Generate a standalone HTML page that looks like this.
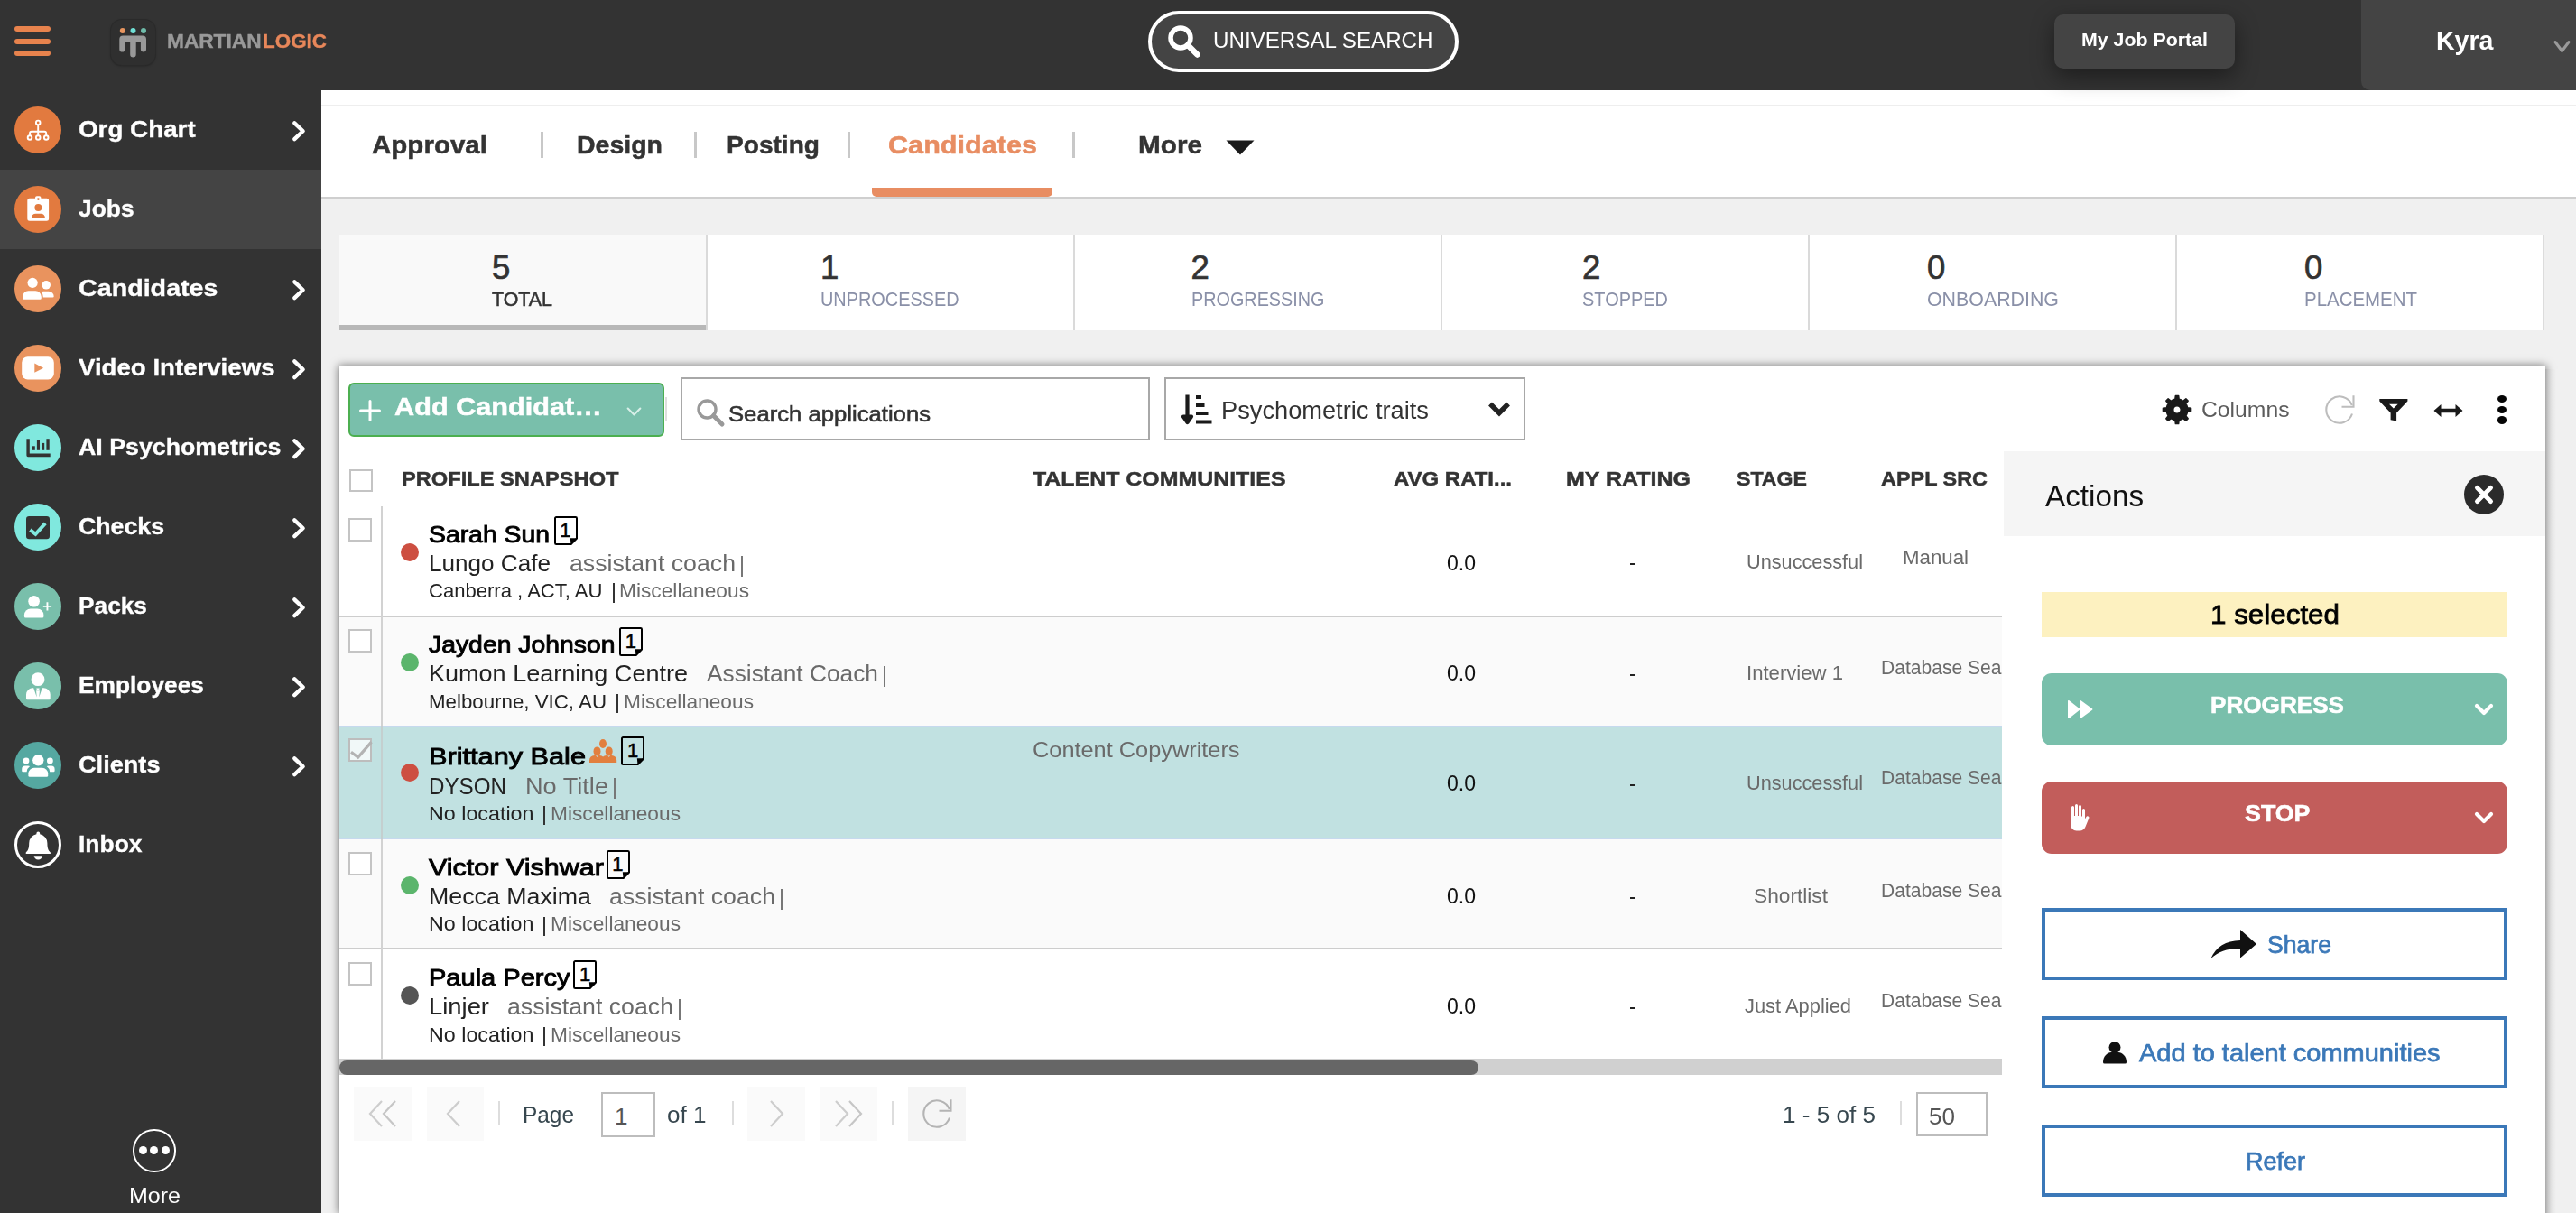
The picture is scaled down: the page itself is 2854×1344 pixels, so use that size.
<!DOCTYPE html>
<html><head><meta charset="utf-8"><title>Candidates</title>
<style>
html,body{margin:0;padding:0;}
body{width:2854px;height:1344px;overflow:hidden;position:relative;background:#f0f0f0;font-family:"Liberation Sans",sans-serif;}
svg{display:block;overflow:visible}
</style></head><body>
<div style="position:absolute;left:0px;top:0px;width:2854px;height:100px;background:#333333;"></div>
<div style="position:absolute;left:0px;top:100px;width:356px;height:1244px;background:#333333;"></div>
<div style="position:absolute;left:356px;top:100px;width:2498px;height:118px;background:#fff;border-bottom:2px solid #cfcfcf;"></div>
<div style="position:absolute;left:356px;top:116px;width:2498px;height:2px;background:#eeeeee;"></div>
<div style="position:absolute;left:16px;top:29px;width:40px;height:6px;background:#e8834d;border-radius:3px;"></div>
<div style="position:absolute;left:16px;top:43px;width:40px;height:6px;background:#e8834d;border-radius:3px;"></div>
<div style="position:absolute;left:16px;top:56px;width:40px;height:6px;background:#e8834d;border-radius:3px;"></div>
<div style="position:absolute;left:122.5px;top:21.8px;width:49.2px;height:50px;background:#2f2f2f;border-radius:12px;box-shadow:0 0 0 1px #2a2a2a, 0 1px 3px rgba(0,0,0,.35);box-sizing:border-box;"></div>
<svg style="position:absolute;left:122.5px;top:22px;" width="49" height="50" viewBox="0 0 49 50">
<circle cx="12.800" cy="11.900" r="3" fill="#e8955f"/><circle cx="24.500" cy="11.900" r="3" fill="#6fe0d6"/><circle cx="36" cy="11.900" r="3" fill="#6fbcaa"/>
<path d="M9.300 32.500 V21.600 a4 4 0 0 1 4 -4 H35 a4 4 0 0 1 4 4 V32.500 a3.050 3.050 0 0 1 -6.100 0 V24.400 H27.700 V38.300 a3.250 3.250 0 0 1 -6.500 0 V24.400 H15.500 V32.500 a3.100 3.100 0 0 1 -6.200 0 z" fill="#999"/>
</svg>
<span style="position:absolute;left:184.8px;top:34.5px;font-size:22.5px;line-height:1;font-weight:700;color:#999;white-space:nowrap;transform:scaleX(1.0074);transform-origin:0 0;-webkit-text-stroke:0.400px #999;">MARTIAN</span>
<span style="position:absolute;left:291.0px;top:34.5px;font-size:22.5px;line-height:1;font-weight:700;color:#e8875a;white-space:nowrap;transform:scaleX(0.9965);transform-origin:0 0;-webkit-text-stroke:0.400px #e8875a;">LOGIC</span>
<div style="position:absolute;left:1272px;top:12px;width:343.5px;height:68px;background:#444;border:4px solid #fff;border-radius:34px;box-sizing:border-box;"></div>
<svg style="position:absolute;left:1293px;top:27px;" width="38" height="38" viewBox="0 0 38 38"><circle cx="15" cy="15" r="11" fill="none" stroke="#fff" stroke-width="5.5"/><path d="M23 23 L33.5 33.5" stroke="#fff" stroke-width="6.5" stroke-linecap="round"/></svg>
<span style="position:absolute;left:1344.0px;top:34.1px;font-size:23.5px;line-height:1;font-weight:400;color:#fff;white-space:nowrap;transform:scaleX(1.0282);transform-origin:0 0;">UNIVERSAL SEARCH</span>
<div style="position:absolute;left:2276px;top:16px;width:200px;height:60px;background:#444;border-radius:10px;box-shadow:0 8px 26px rgba(0,0,0,.45);"></div>
<span style="position:absolute;left:2306.0px;top:34.1px;font-size:20px;line-height:1;font-weight:700;color:#fff;white-space:nowrap;transform:scaleX(1.0676);transform-origin:0 0;">My Job Portal</span>
<div style="position:absolute;left:2616px;top:0px;width:238px;height:100px;background:#444;border-bottom-left-radius:10px;"></div>
<span style="position:absolute;left:2698.5px;top:29.6px;font-size:30px;line-height:1;font-weight:700;color:#fff;white-space:nowrap;transform:scaleX(0.9518);transform-origin:0 0;">Kyra</span>
<svg style="position:absolute;left:2828.5px;top:43.5px;" width="19" height="16" viewBox="0 0 19 16"><path d="M2 2.500 L9.500 12.500 L17 2.500" fill="none" stroke="#9a9a9a" stroke-width="3" stroke-linecap="round" stroke-linejoin="round"/></svg>
<div style="position:absolute;left:0px;top:188px;width:356px;height:88px;background:#444;"></div>
<div style="position:absolute;left:15.5px;top:117.5px;width:52px;height:52px;background:#e27a3f;border-radius:50%;"></div>
<svg style="position:absolute;left:15.5px;top:117.5px;" width="52" height="52" viewBox="0 0 52 52"><g fill="none" stroke="#fff" stroke-width="1.9"><circle cx="26.2" cy="17.9" r="2.3"/><path d="M26.2 20.3 V32 M17 32 V29.8 a2 2 0 0 1 2 -2 H33.2 a2 2 0 0 1 2 2 V32"/><circle cx="17" cy="34.5" r="2.3"/><circle cx="26.2" cy="34.5" r="2.3"/><circle cx="35.2" cy="34.5" r="2.3"/></g></svg>
<span style="position:absolute;left:87.0px;top:129.5px;font-size:26.5px;line-height:1;font-weight:700;color:#fff;white-space:nowrap;transform:scaleX(1.0486);transform-origin:0 0;-webkit-text-stroke:0.350px #fff;">Org Chart</span>
<svg style="position:absolute;left:322.6px;top:133.5px;" width="16.9" height="22.5" viewBox="0 0 18 24"><path d="M3.500 2.500 L13.500 12 L3.500 21.500" fill="none" stroke="#fff" stroke-width="4.600" stroke-linecap="round" stroke-linejoin="round"/></svg>
<div style="position:absolute;left:15.5px;top:205.5px;width:52px;height:52px;background:#e27a3f;border-radius:50%;"></div>
<svg style="position:absolute;left:15.5px;top:205.5px;" width="52" height="52" viewBox="0 0 52 52"><path d="M16.8 13.8 h6.2 v-0.8 a1.8 1.800 0 0 1 1.800 -1.800 h2.800 a1.800 1.800 0 0 1 1.800 1.800 v0.800 h6.200 a2.500 2.500 0 0 1 2.500 2.500 V36.300 a2.500 2.500 0 0 1 -2.500 2.500 H16.800 a2.500 2.500 0 0 1 -2.500 -2.500 V16.300 a2.500 2.500 0 0 1 2.500 -2.500 z" fill="#fff"/><circle cx="26.400" cy="24" r="4" fill="#e27a3f"/><path d="M18.900 35.300 a4.600 4.600 0 0 1 4.600 -4.600 h5.800 a4.600 4.600 0 0 1 4.600 4.600 v0.400 h-15 z" fill="#e27a3f"/><circle cx="26.400" cy="14.600" r="1.300" fill="#e27a3f"/></svg>
<span style="position:absolute;left:87.0px;top:217.5px;font-size:26.5px;line-height:1;font-weight:700;color:#fff;white-space:nowrap;transform:scaleX(0.9974);transform-origin:0 0;-webkit-text-stroke:0.350px #fff;">Jobs</span>
<div style="position:absolute;left:15.5px;top:293.5px;width:52px;height:52px;background:#e9935e;border-radius:50%;"></div>
<svg style="position:absolute;left:15.5px;top:293.5px;" width="52" height="52" viewBox="0 0 52 52"><g fill="#fff"><circle cx="20.100" cy="19.400" r="5.600"/><circle cx="35.200" cy="21.800" r="4.800"/><path d="M9 36.200 v-1.400 a6.500 6.500 0 0 1 6.500 -6.500 h7.800 a6.500 6.500 0 0 1 6.500 6.500 v1.400 a1.500 1.500 0 0 1 -1.500 1.500 H10.500 a1.500 1.500 0 0 1 -1.500 -1.500 z"/><path d="M31.700 35.500 v-0.700 a8.300 8.300 0 0 0 -2.200 -5.500 a5.800 5.800 0 0 1 2.600 -0.600 h5.800 a5.800 5.800 0 0 1 5.800 5.800 v-0.200 a1.200 1.200 0 0 1 -1.200 1.200 z"/></g></svg>
<span style="position:absolute;left:87.0px;top:305.5px;font-size:26.5px;line-height:1;font-weight:700;color:#fff;white-space:nowrap;transform:scaleX(1.0816);transform-origin:0 0;-webkit-text-stroke:0.350px #fff;">Candidates</span>
<svg style="position:absolute;left:322.6px;top:309.5px;" width="16.9" height="22.5" viewBox="0 0 18 24"><path d="M3.500 2.500 L13.500 12 L3.500 21.500" fill="none" stroke="#fff" stroke-width="4.600" stroke-linecap="round" stroke-linejoin="round"/></svg>
<div style="position:absolute;left:15.5px;top:381.5px;width:52px;height:52px;background:#e9935e;border-radius:50%;"></div>
<svg style="position:absolute;left:15.5px;top:381.5px;" width="52" height="52" viewBox="0 0 52 52"><rect x="8.200" y="13.200" width="35.600" height="25.200" rx="6.500" fill="#fff"/><path d="M22.300 20.600 L32.200 25.700 L22.300 30.800 z" fill="#e9935e"/></svg>
<span style="position:absolute;left:87.0px;top:393.5px;font-size:26.5px;line-height:1;font-weight:700;color:#fff;white-space:nowrap;transform:scaleX(1.0424);transform-origin:0 0;-webkit-text-stroke:0.350px #fff;">Video Interviews</span>
<svg style="position:absolute;left:322.6px;top:397.5px;" width="16.9" height="22.5" viewBox="0 0 18 24"><path d="M3.500 2.500 L13.500 12 L3.500 21.500" fill="none" stroke="#fff" stroke-width="4.600" stroke-linecap="round" stroke-linejoin="round"/></svg>
<div style="position:absolute;left:15.5px;top:469.5px;width:52px;height:52px;background:#80e8de;border-radius:50%;"></div>
<svg style="position:absolute;left:15.5px;top:469.5px;" width="52" height="52" viewBox="0 0 52 52"><g fill="#333"><path d="M13.400 16.200 h3.400 v16.400 H39.700 v3.600 H15 a1.600 1.600 0 0 1 -1.600 -1.600 z"/><rect x="19.500" y="24.300" width="3.300" height="4.500"/><rect x="24.900" y="17.700" width="3.100" height="11.100"/><rect x="30.200" y="20.900" width="3" height="7.900"/><rect x="35.400" y="16.200" width="3.300" height="12.600"/></g></svg>
<span style="position:absolute;left:87.0px;top:481.5px;font-size:26.5px;line-height:1;font-weight:700;color:#fff;white-space:nowrap;transform:scaleX(1.0094);transform-origin:0 0;-webkit-text-stroke:0.350px #fff;">AI Psychometrics</span>
<svg style="position:absolute;left:322.6px;top:485.5px;" width="16.9" height="22.5" viewBox="0 0 18 24"><path d="M3.500 2.500 L13.500 12 L3.500 21.500" fill="none" stroke="#fff" stroke-width="4.600" stroke-linecap="round" stroke-linejoin="round"/></svg>
<div style="position:absolute;left:15.5px;top:557.5px;width:52px;height:52px;background:#80e8de;border-radius:50%;"></div>
<svg style="position:absolute;left:15.5px;top:557.5px;" width="52" height="52" viewBox="0 0 52 52"><rect x="13" y="13.900" width="26" height="25.300" rx="3.200" fill="#333"/><path d="M17.400 29.100 L23.400 33.800 L34.200 21.900" fill="none" stroke="#80e8de" stroke-width="4"/></svg>
<span style="position:absolute;left:87.0px;top:569.5px;font-size:26.5px;line-height:1;font-weight:700;color:#fff;white-space:nowrap;transform:scaleX(1.0076);transform-origin:0 0;-webkit-text-stroke:0.350px #fff;">Checks</span>
<svg style="position:absolute;left:322.6px;top:573.5px;" width="16.9" height="22.5" viewBox="0 0 18 24"><path d="M3.500 2.500 L13.500 12 L3.500 21.500" fill="none" stroke="#fff" stroke-width="4.600" stroke-linecap="round" stroke-linejoin="round"/></svg>
<div style="position:absolute;left:15.5px;top:645.5px;width:52px;height:52px;background:#79bfab;border-radius:50%;"></div>
<svg style="position:absolute;left:15.5px;top:645.5px;" width="52" height="52" viewBox="0 0 52 52"><g fill="#fff"><circle cx="21.600" cy="20.300" r="6.300"/><path d="M10.900 36.900 v-1.400 a7 7 0 0 1 7 -7 h7.500 a7 7 0 0 1 7 7 v1.400 a1.500 1.500 0 0 1 -1.500 1.500 H12.400 a1.500 1.500 0 0 1 -1.500 -1.500 z"/><path d="M35.500 21.200 h1.900 v3.700 h3.700 v1.900 h-3.700 v3.700 h-1.900 v-3.700 h-3.700 v-1.900 h3.700 z"/></g></svg>
<span style="position:absolute;left:87.0px;top:657.5px;font-size:26.5px;line-height:1;font-weight:700;color:#fff;white-space:nowrap;transform:scaleX(0.9916);transform-origin:0 0;-webkit-text-stroke:0.350px #fff;">Packs</span>
<svg style="position:absolute;left:322.6px;top:661.5px;" width="16.9" height="22.5" viewBox="0 0 18 24"><path d="M3.500 2.500 L13.500 12 L3.500 21.500" fill="none" stroke="#fff" stroke-width="4.600" stroke-linecap="round" stroke-linejoin="round"/></svg>
<div style="position:absolute;left:15.5px;top:733.5px;width:52px;height:52px;background:#79bfab;border-radius:50%;"></div>
<svg style="position:absolute;left:15.5px;top:733.5px;" width="52" height="52" viewBox="0 0 52 52"><g fill="#fff"><circle cx="26" cy="18.700" r="7.400"/><path d="M13 40 v-4.500 a7.200 7.200 0 0 1 7.200 -7.200 h1 l3.500 10.300 l-0.600 -7.300 h3.800 l-0.600 7.300 l3.500 -10.300 h1.700 a7.200 7.200 0 0 1 7.200 7.200 v4.500 a1.200 1.200 0 0 1 -1.200 1.200 H14.200 a1.200 1.200 0 0 1 -1.200 -1.200 z"/><path d="M24.300 28.400 h3.400 l-0.700 2.300 h-2 z"/></g></svg>
<span style="position:absolute;left:87.0px;top:745.5px;font-size:26.5px;line-height:1;font-weight:700;color:#fff;white-space:nowrap;transform:scaleX(0.9933);transform-origin:0 0;-webkit-text-stroke:0.350px #fff;">Employees</span>
<svg style="position:absolute;left:322.6px;top:749.5px;" width="16.9" height="22.5" viewBox="0 0 18 24"><path d="M3.500 2.500 L13.500 12 L3.500 21.500" fill="none" stroke="#fff" stroke-width="4.600" stroke-linecap="round" stroke-linejoin="round"/></svg>
<div style="position:absolute;left:15.5px;top:821.5px;width:52px;height:52px;background:#55a8a1;border-radius:50%;"></div>
<svg style="position:absolute;left:15.5px;top:821.5px;" width="52" height="52" viewBox="0 0 52 52"><g fill="#fff"><circle cx="26.300" cy="20.300" r="6.200"/><circle cx="13" cy="20.900" r="3.400"/><circle cx="39.400" cy="20.900" r="3.400"/><path d="M15.400 37.200 v-2 a6.400 6.400 0 0 1 6.400 -6.400 h9 a6.400 6.400 0 0 1 6.400 6.400 v2 a1.500 1.500 0 0 1 -1.500 1.500 H16.900 a1.500 1.500 0 0 1 -1.500 -1.500 z"/><path d="M8.200 32 v-1.800 a3.700 3.700 0 0 1 3.700 -3.700 h3.200 a3.700 3.700 0 0 1 2 0.600 a8.500 8.500 0 0 0 -3.500 6.100 h-4.200 a1.200 1.200 0 0 1 -1.200 -1.200 z"/><path d="M44.600 32 v-1.800 a3.700 3.700 0 0 0 -3.700 -3.700 h-3.200 a3.700 3.700 0 0 0 -2 0.600 a8.500 8.500 0 0 1 3.500 6.100 h4.200 a1.200 1.200 0 0 0 1.200 -1.200 z"/></g></svg>
<span style="position:absolute;left:87.0px;top:833.5px;font-size:26.5px;line-height:1;font-weight:700;color:#fff;white-space:nowrap;transform:scaleX(1.0242);transform-origin:0 0;-webkit-text-stroke:0.350px #fff;">Clients</span>
<svg style="position:absolute;left:322.6px;top:837.5px;" width="16.9" height="22.5" viewBox="0 0 18 24"><path d="M3.500 2.500 L13.500 12 L3.500 21.500" fill="none" stroke="#fff" stroke-width="4.600" stroke-linecap="round" stroke-linejoin="round"/></svg>
<div style="position:absolute;left:15.5px;top:909.5px;width:52px;height:52px;border:3px solid #fff;border-radius:50%;box-sizing:border-box;"></div>
<svg style="position:absolute;left:15.5px;top:909.5px;" width="52" height="52" viewBox="0 0 52 52"><path d="M26.300 11.500 a1.900 1.900 0 0 1 1.900 1.900 v0.900 a10.200 10.200 0 0 1 8.200 10 c0 5.400 1 7.900 3.400 10.200 a0.900 0.900 0 0 1 -0.700 1.500 H13.500 a0.900 0.900 0 0 1 -0.700 -1.500 c2.400 -2.300 3.400 -4.800 3.400 -10.200 a10.200 10.200 0 0 1 8.200 -10 v-0.900 a1.900 1.900 0 0 1 1.900 -1.900 z M21.700 38.200 h9.200 a4.600 4.200 0 0 1 -9.200 0 z" fill="#fff"/></svg>
<span style="position:absolute;left:87.0px;top:921.5px;font-size:26.5px;line-height:1;font-weight:700;color:#fff;white-space:nowrap;transform:scaleX(0.9976);transform-origin:0 0;-webkit-text-stroke:0.350px #fff;">Inbox</span>
<div style="position:absolute;left:147px;top:1251.3px;width:47.5px;height:47.5px;border:2px solid #fff;border-radius:50%;box-sizing:border-box;"></div>
<div style="position:absolute;left:153.5px;top:1270.3px;width:9px;height:9px;background:#fff;border-radius:50%;filter:blur(0.4px);"></div>
<div style="position:absolute;left:166.4px;top:1270.3px;width:9px;height:9px;background:#fff;border-radius:50%;filter:blur(0.4px);"></div>
<div style="position:absolute;left:179.3px;top:1270.3px;width:9px;height:9px;background:#fff;border-radius:50%;filter:blur(0.4px);"></div>
<span style="position:absolute;left:142.5px;top:1313.0px;font-size:24px;line-height:1;font-weight:400;color:#fff;white-space:nowrap;transform:scaleX(1.0423);transform-origin:0 0;">More</span>
<span style="position:absolute;left:411.5px;top:146.5px;font-size:28px;line-height:1;font-weight:700;color:#333;white-space:nowrap;transform:scaleX(1.0547);transform-origin:0 0;-webkit-text-stroke:0.500px #333;">Approval</span>
<div style="position:absolute;left:598.5px;top:146px;width:3px;height:29px;background:#c8c8c8;"></div>
<span style="position:absolute;left:638.5px;top:146.5px;font-size:28px;line-height:1;font-weight:700;color:#333;white-space:nowrap;transform:scaleX(1.0176);transform-origin:0 0;-webkit-text-stroke:0.500px #333;">Design</span>
<div style="position:absolute;left:768.5px;top:146px;width:3px;height:29px;background:#c8c8c8;"></div>
<span style="position:absolute;left:804.5px;top:146.5px;font-size:28px;line-height:1;font-weight:700;color:#333;white-space:nowrap;transform:scaleX(1.0032);transform-origin:0 0;-webkit-text-stroke:0.500px #333;">Posting</span>
<div style="position:absolute;left:938.5px;top:146px;width:3px;height:29px;background:#c8c8c8;"></div>
<span style="position:absolute;left:983.5px;top:146.5px;font-size:28px;line-height:1;font-weight:700;color:#e88d62;white-space:nowrap;transform:scaleX(1.0932);transform-origin:0 0;-webkit-text-stroke:0.500px #e88d62;">Candidates</span>
<div style="position:absolute;left:965.8px;top:208px;width:200.2px;height:9.5px;background:#e88d62;border-radius:0 0 5px 5px;"></div>
<div style="position:absolute;left:1188px;top:146px;width:3px;height:29px;background:#c8c8c8;"></div>
<span style="position:absolute;left:1260.5px;top:146.5px;font-size:28px;line-height:1;font-weight:700;color:#333;white-space:nowrap;transform:scaleX(1.0612);transform-origin:0 0;-webkit-text-stroke:0.500px #333;">More</span>
<svg style="position:absolute;left:1357.5px;top:154.7px;" width="32" height="17" viewBox="0 0 32 17"><path d="M0.500 0.500 H31.500 L16 16.500 z" fill="#1a1a1a"/></svg>
<div style="position:absolute;left:376px;top:260px;width:405.5px;height:106px;background:#f9f9f9;border-bottom:6px solid #b8b8b8;box-sizing:border-box;"></div>
<span style="position:absolute;left:545.0px;top:278.6px;font-size:36.5px;line-height:1;font-weight:400;color:#333;white-space:nowrap;-webkit-text-stroke:0.700px #333;">5</span>
<span style="position:absolute;left:545.0px;top:321.8px;font-size:21.5px;line-height:1;font-weight:400;color:#333;white-space:nowrap;transform:scaleX(0.9954);transform-origin:0 0;-webkit-text-stroke:0.500px #333;">TOTAL</span>
<div style="position:absolute;left:781.5px;top:260px;width:408.5px;height:106px;background:#fff;border-left:2px solid #dadada;box-sizing:border-box;"></div>
<span style="position:absolute;left:909.0px;top:278.6px;font-size:36.5px;line-height:1;font-weight:400;color:#333;white-space:nowrap;-webkit-text-stroke:0.700px #333;">1</span>
<span style="position:absolute;left:909.0px;top:321.8px;font-size:21.5px;line-height:1;font-weight:400;color:#8a90a8;white-space:nowrap;transform:scaleX(0.9244);transform-origin:0 0;">UNPROCESSED</span>
<div style="position:absolute;left:1188.5px;top:260px;width:408.5px;height:106px;background:#fff;border-left:2px solid #dadada;box-sizing:border-box;"></div>
<span style="position:absolute;left:1319.5px;top:278.6px;font-size:36.5px;line-height:1;font-weight:400;color:#333;white-space:nowrap;-webkit-text-stroke:0.700px #333;">2</span>
<span style="position:absolute;left:1319.5px;top:321.8px;font-size:21.5px;line-height:1;font-weight:400;color:#8a90a8;white-space:nowrap;transform:scaleX(0.9213);transform-origin:0 0;">PROGRESSING</span>
<div style="position:absolute;left:1595.5px;top:260px;width:408.5px;height:106px;background:#fff;border-left:2px solid #dadada;box-sizing:border-box;"></div>
<span style="position:absolute;left:1753.0px;top:278.6px;font-size:36.5px;line-height:1;font-weight:400;color:#333;white-space:nowrap;-webkit-text-stroke:0.700px #333;">2</span>
<span style="position:absolute;left:1753.0px;top:321.8px;font-size:21.5px;line-height:1;font-weight:400;color:#8a90a8;white-space:nowrap;transform:scaleX(0.9281);transform-origin:0 0;">STOPPED</span>
<div style="position:absolute;left:2002.5px;top:260px;width:408.5px;height:106px;background:#fff;border-left:2px solid #dadada;box-sizing:border-box;"></div>
<span style="position:absolute;left:2135.0px;top:278.6px;font-size:36.5px;line-height:1;font-weight:400;color:#333;white-space:nowrap;-webkit-text-stroke:0.700px #333;">0</span>
<span style="position:absolute;left:2135.0px;top:321.8px;font-size:21.5px;line-height:1;font-weight:400;color:#8a90a8;white-space:nowrap;transform:scaleX(0.9936);transform-origin:0 0;">ONBOARDING</span>
<div style="position:absolute;left:2409.5px;top:260px;width:408.5px;height:106px;background:#fff;border-left:2px solid #dadada;box-sizing:border-box;"></div>
<span style="position:absolute;left:2553.0px;top:278.6px;font-size:36.5px;line-height:1;font-weight:400;color:#333;white-space:nowrap;-webkit-text-stroke:0.700px #333;">0</span>
<span style="position:absolute;left:2553.0px;top:321.8px;font-size:21.5px;line-height:1;font-weight:400;color:#8a90a8;white-space:nowrap;transform:scaleX(0.9511);transform-origin:0 0;">PLACEMENT</span>
<div style="position:absolute;left:2817px;top:260px;width:2px;height:106px;background:#dcdcdc;"></div>
<div style="position:absolute;left:376px;top:406px;width:2444px;height:938px;background:#fff;box-shadow:0 0 9px 1px rgba(0,0,0,.5);"></div>
<div style="position:absolute;left:386px;top:424.3px;width:350px;height:59.5px;background:#79bfab;border:2px solid #4caf50;border-radius:6px;box-sizing:border-box;"></div>
<div style="position:absolute;left:736.5px;top:440px;width:2px;height:27px;background:#dedede;"></div>
<svg style="position:absolute;left:397.8px;top:442.5px;" width="24" height="24" viewBox="0 0 24 24"><path d="M12 1.500 V22.500 M1.500 12 H22.500" stroke="#fff" stroke-width="3" stroke-linecap="round"/></svg>
<span style="position:absolute;left:436.5px;top:437.2px;font-size:27.5px;line-height:1;font-weight:700;color:#fff;white-space:nowrap;transform:scaleX(1.1152);transform-origin:0 0;-webkit-text-stroke:0.500px #fff;">Add Candidat&hellip;</span>
<svg style="position:absolute;left:693.5px;top:451px;" width="17" height="10.5" viewBox="0 0 16 10"><path d="M1.500 1.500 L8 8 L14.500 1.500" fill="none" stroke="#d8efe8" stroke-width="2" stroke-linecap="round" stroke-linejoin="round"/></svg>
<div style="position:absolute;left:754px;top:418.3px;width:519.5px;height:69.5px;background:#fff;border:2px solid #a8a8a8;box-sizing:border-box;"></div>
<svg style="position:absolute;left:771px;top:441px;" width="32" height="32" viewBox="0 0 32 32"><circle cx="12.500" cy="12.500" r="9.500" fill="none" stroke="#999" stroke-width="3.400"/><path d="M19.500 19.500 L29 29" stroke="#999" stroke-width="5" stroke-linecap="round"/></svg>
<span style="position:absolute;left:806.5px;top:446.5px;font-size:24.2px;line-height:1;font-weight:400;color:#333;white-space:nowrap;transform:scaleX(1.0611);transform-origin:0 0;-webkit-text-stroke:0.600px #333;">Search applications</span>
<div style="position:absolute;left:1290.3px;top:418.3px;width:399.5px;height:69.5px;background:#fff;border:2px solid #a8a8a8;box-sizing:border-box;"></div>
<svg style="position:absolute;left:1309px;top:437px;" width="34" height="34" viewBox="0 0 34 34"><path d="M6.500 0.500 V27 M2 24.500 L6.500 31 L11 24.500 z" stroke="#1a1a1a" stroke-width="4.200" fill="#1a1a1a" stroke-linejoin="round"/><path d="M16 3 h6 M16 12 h9.500 M16 21 h13.500 M16 30.500 h17.500" stroke="#1a1a1a" stroke-width="4"/></svg>
<span style="position:absolute;left:1353.0px;top:442.1px;font-size:27px;line-height:1;font-weight:400;color:#333;white-space:nowrap;transform:scaleX(1.0085);transform-origin:0 0;">Psychometric traits</span>
<svg style="position:absolute;left:1647.5px;top:443.5px;" width="26" height="18" viewBox="0 0 26 18"><path d="M3 3.500 L13 13.500 L23 3.500" fill="none" stroke="#222" stroke-width="5.500" stroke-linecap="butt" stroke-linejoin="miter"/></svg>
<svg style="position:absolute;left:2396px;top:438px;" width="32" height="32" viewBox="0 0 32 32"><path d="M13.88 4.39 L14.41 0.48 L17.59 0.48 L18.12 4.39 A11.8 11.8 0 0 1 22.71 6.29 L22.71 6.29 L25.85 3.90 L28.10 6.15 L25.71 9.29 A11.8 11.8 0 0 1 27.61 13.88 L27.61 13.88 L31.52 14.41 L31.52 17.59 L27.61 18.12 A11.8 11.8 0 0 1 25.71 22.71 L25.71 22.71 L28.10 25.85 L25.85 28.10 L22.71 25.71 A11.8 11.8 0 0 1 18.12 27.61 L18.12 27.61 L17.59 31.52 L14.41 31.52 L13.88 27.61 A11.8 11.8 0 0 1 9.29 25.71 L9.29 25.71 L6.15 28.10 L3.90 25.85 L6.29 22.71 A11.8 11.8 0 0 1 4.39 18.12 L4.39 18.12 L0.48 17.59 L0.48 14.41 L4.39 13.88 A11.8 11.8 0 0 1 6.29 9.29 L6.29 9.29 L3.90 6.15 L6.15 3.90 L9.29 6.29 A11.8 11.8 0 0 1 13.88 4.39 Z M20.30 16.00 A4.3 4.3 0 1 0 11.70 16.00 A4.3 4.3 0 1 0 20.30 16.00 Z" fill="#1a1a1a" fill-rule="evenodd" stroke="#1a1a1a" stroke-width="1.600" stroke-linejoin="round"/></svg>
<span style="position:absolute;left:2438.5px;top:442.4px;font-size:24.3px;line-height:1;font-weight:400;color:#5c5c5c;white-space:nowrap;transform:scaleX(1.0169);transform-origin:0 0;">Columns</span>
<svg style="position:absolute;left:2574.5px;top:437px;" width="34" height="34" viewBox="0 0 34 34"><path d="M30.800 12 A14.700 14.700 0 1 0 30.980 21.540" fill="none" stroke="#bdbdbd" stroke-width="2.100"/><path d="M19.500 13.800 H32.500 V1.200" fill="none" stroke="#bdbdbd" stroke-width="2.100"/></svg>
<svg style="position:absolute;left:2636.4px;top:442.2px;" width="32" height="25" viewBox="0 0 32 25"><path d="M0.300 0 H31.400 V2.600 L19.100 15.500 V24.400 L12.600 23.300 V15.500 L0.300 2.600 z M11 5.800 L15.850 10.600 L20.700 5.800 z" fill="#1a1a1a" fill-rule="evenodd"/></svg>
<svg style="position:absolute;left:2696px;top:446px;" width="33" height="18" viewBox="0 0 33 18"><path d="M0.500 9 L8.500 2 V6.800 H24.500 V2 L32.500 9 L24.500 16 V11.200 H8.500 V16 z" fill="#1a1a1a"/></svg>
<div style="position:absolute;left:2766.8px;top:437.9px;width:10.7px;height:8.6px;background:#050505;border-radius:50%;"></div>
<div style="position:absolute;left:2766.8px;top:449.5px;width:10.7px;height:8.6px;background:#050505;border-radius:50%;"></div>
<div style="position:absolute;left:2766.8px;top:461.09999999999997px;width:10.7px;height:8.6px;background:#050505;border-radius:50%;"></div>
<div style="position:absolute;left:386.8px;top:519.5px;width:26px;height:25px;background:#fff;border:2px solid #c4c4c4;box-sizing:border-box;"></div>
<span style="position:absolute;left:445.0px;top:519.4px;font-size:22.8px;line-height:1;font-weight:700;color:#333;white-space:nowrap;transform:scaleX(1.0375);transform-origin:0 0;-webkit-text-stroke:0.500px #333;">PROFILE SNAPSHOT</span>
<span style="position:absolute;left:1144.0px;top:519.4px;font-size:22.8px;line-height:1;font-weight:700;color:#333;white-space:nowrap;transform:scaleX(1.0929);transform-origin:0 0;-webkit-text-stroke:0.500px #333;">TALENT COMMUNITIES</span>
<span style="position:absolute;left:1544.0px;top:519.4px;font-size:22.8px;line-height:1;font-weight:700;color:#333;white-space:nowrap;transform:scaleX(1.0518);transform-origin:0 0;-webkit-text-stroke:0.500px #333;">AVG RATI...</span>
<span style="position:absolute;left:1734.5px;top:519.4px;font-size:22.8px;line-height:1;font-weight:700;color:#333;white-space:nowrap;transform:scaleX(1.0969);transform-origin:0 0;-webkit-text-stroke:0.500px #333;">MY RATING</span>
<span style="position:absolute;left:1924.0px;top:519.4px;font-size:22.8px;line-height:1;font-weight:700;color:#333;white-space:nowrap;transform:scaleX(1.0150);transform-origin:0 0;-webkit-text-stroke:0.500px #333;">STAGE</span>
<span style="position:absolute;left:2084.0px;top:519.4px;font-size:22.8px;line-height:1;font-weight:700;color:#333;white-space:nowrap;transform:scaleX(1.0273);transform-origin:0 0;-webkit-text-stroke:0.500px #333;">APPL SRC</span>
<div style="position:absolute;left:376px;top:561px;width:1842px;height:121.7px;background:#fff;"></div>
<div style="position:absolute;left:376px;top:682px;width:1842px;height:2px;background:#cdcdcd;"></div>
<div style="position:absolute;left:421.8px;top:561px;width:1.8px;height:123.7px;background:#d2d2d2;"></div>
<div style="position:absolute;left:386px;top:574.2px;width:26px;height:26px;background:#fff;border:2px solid #c4c4c4;box-sizing:border-box;"></div>
<div style="position:absolute;left:444px;top:601.7px;width:20px;height:20px;background:#cd4f41;border-radius:50%;"></div>
<span style="position:absolute;left:474.5px;top:578.6px;font-size:26.3px;line-height:1;font-weight:400;color:#000;white-space:nowrap;transform:scaleX(1.0782);transform-origin:0 0;-webkit-text-stroke:0.900px #000;">Sarah Sun</span>
<svg style="position:absolute;left:613.5px;top:572.3px;" width="26" height="32" viewBox="0 0 26 32"><path d="M2.300 1 H23.700 a1.300 1.300 0 0 1 1.300 1.300 V24.500 L18.700 31 H2.300 a1.300 1.300 0 0 1 -1.300 -1.300 V2.300 a1.300 1.300 0 0 1 1.300 -1.300 z" fill="none" stroke="#000" stroke-width="2"/><path d="M17.800 24.300 H25.800 L18.600 31.800 z" fill="#000"/></svg>
<span style="position:absolute;left:620.3px;top:577.4px;font-size:22px;line-height:1;font-weight:400;color:#000;white-space:nowrap;-webkit-text-stroke:0.500px #000;">1</span>
<span style="position:absolute;left:474.5px;top:610.8px;font-size:26.5px;line-height:1;font-weight:400;color:#222;white-space:nowrap;transform:scaleX(0.9852);transform-origin:0 0;">Lungo Cafe</span>
<span style="position:absolute;left:630.5px;top:610.8px;font-size:26.5px;line-height:1;font-weight:400;color:#6a6a6a;white-space:nowrap;transform:scaleX(1.0074);transform-origin:0 0;">assistant coach</span>
<div style="position:absolute;left:820.5px;top:615.6999999999999px;width:2px;height:23px;background:#777;"></div>
<span style="position:absolute;left:474.5px;top:644.0px;font-size:22px;line-height:1;font-weight:400;color:#222;white-space:nowrap;transform:scaleX(1.0027);transform-origin:0 0;">Canberra , ACT, AU</span>
<div style="position:absolute;left:678.5px;top:646.1px;width:2px;height:21.5px;background:#333;"></div>
<span style="position:absolute;left:686.0px;top:644.0px;font-size:22px;line-height:1;font-weight:400;color:#6a6a6a;white-space:nowrap;transform:scaleX(1.0330);transform-origin:0 0;">Miscellaneous</span>
<span style="position:absolute;left:1603.0px;top:612.5px;font-size:23.5px;line-height:1;font-weight:400;color:#111;white-space:nowrap;transform:scaleX(0.9794);transform-origin:0 0;">0.0</span>
<div style="position:absolute;left:1805.5px;top:624.1999999999999px;width:6.8px;height:2.1px;background:#222;"></div>
<span style="position:absolute;left:1935.0px;top:612.4px;font-size:22px;line-height:1;font-weight:400;color:#6a6a6a;white-space:nowrap;transform:scaleX(0.9859);transform-origin:0 0;">Unsuccessful</span>
<span style="position:absolute;left:2107.5px;top:606.8px;font-size:22px;line-height:1;font-weight:400;color:#6a6a6a;white-space:nowrap;transform:scaleX(1.0117);transform-origin:0 0;">Manual</span>
<div style="position:absolute;left:376px;top:683.5px;width:1842px;height:120.2px;background:#fafafa;"></div>
<div style="position:absolute;left:421.8px;top:683.5px;width:1.8px;height:122.2px;background:#d2d2d2;"></div>
<div style="position:absolute;left:386px;top:696.7px;width:26px;height:26px;background:#fff;border:2px solid #c4c4c4;box-sizing:border-box;"></div>
<div style="position:absolute;left:444px;top:724.2px;width:20px;height:20px;background:#5bb56c;border-radius:50%;"></div>
<span style="position:absolute;left:474.5px;top:701.1px;font-size:26.3px;line-height:1;font-weight:400;color:#000;white-space:nowrap;transform:scaleX(1.0782);transform-origin:0 0;-webkit-text-stroke:0.900px #000;">Jayden Johnson</span>
<svg style="position:absolute;left:686.0px;top:694.8px;" width="26" height="32" viewBox="0 0 26 32"><path d="M2.300 1 H23.700 a1.300 1.300 0 0 1 1.300 1.300 V24.500 L18.700 31 H2.300 a1.300 1.300 0 0 1 -1.300 -1.300 V2.300 a1.300 1.300 0 0 1 1.300 -1.300 z" fill="none" stroke="#000" stroke-width="2"/><path d="M17.800 24.300 H25.800 L18.600 31.800 z" fill="#000"/></svg>
<span style="position:absolute;left:692.8px;top:699.9px;font-size:22px;line-height:1;font-weight:400;color:#000;white-space:nowrap;-webkit-text-stroke:0.500px #000;">1</span>
<span style="position:absolute;left:474.5px;top:733.3px;font-size:26.5px;line-height:1;font-weight:400;color:#222;white-space:nowrap;transform:scaleX(1.0200);transform-origin:0 0;">Kumon Learning Centre</span>
<span style="position:absolute;left:782.5px;top:733.3px;font-size:26.5px;line-height:1;font-weight:400;color:#6a6a6a;white-space:nowrap;transform:scaleX(0.9922);transform-origin:0 0;">Assistant Coach</span>
<div style="position:absolute;left:978.5px;top:738.1999999999999px;width:2px;height:23px;background:#777;"></div>
<span style="position:absolute;left:474.5px;top:766.5px;font-size:22px;line-height:1;font-weight:400;color:#222;white-space:nowrap;transform:scaleX(1.0132);transform-origin:0 0;">Melbourne, VIC, AU</span>
<div style="position:absolute;left:683.0px;top:768.6px;width:2px;height:21.5px;background:#333;"></div>
<span style="position:absolute;left:690.5px;top:766.5px;font-size:22px;line-height:1;font-weight:400;color:#6a6a6a;white-space:nowrap;transform:scaleX(1.0330);transform-origin:0 0;">Miscellaneous</span>
<span style="position:absolute;left:1603.0px;top:735.0px;font-size:23.5px;line-height:1;font-weight:400;color:#111;white-space:nowrap;transform:scaleX(0.9794);transform-origin:0 0;">0.0</span>
<div style="position:absolute;left:1805.5px;top:746.6999999999999px;width:6.8px;height:2.1px;background:#222;"></div>
<span style="position:absolute;left:1935.0px;top:734.9px;font-size:22px;line-height:1;font-weight:400;color:#6a6a6a;white-space:nowrap;transform:scaleX(1.0057);transform-origin:0 0;">Interview 1</span>
<span style="position:absolute;left:2084.0px;top:729.3px;font-size:22px;line-height:1;font-weight:400;color:#6a6a6a;white-space:nowrap;transform:scaleX(0.9574);transform-origin:0 0;">Database Sea</span>
<div style="position:absolute;left:376px;top:803.7px;width:1842px;height:126.7px;background:#c1e1e1;"></div>
<div style="position:absolute;left:376px;top:803.7px;width:1842px;height:2.3px;background:#c6d9ee;"></div>
<div style="position:absolute;left:376px;top:928.1000000000001px;width:1842px;height:2.3px;background:#c6d9ee;"></div>
<div style="position:absolute;left:421.8px;top:803.7px;width:1.8px;height:128.7px;background:#c4cfcf;"></div>
<div style="position:absolute;left:386px;top:818.0px;width:26px;height:26px;background:#f1f8f8;border:2px solid #bdbdbd;box-sizing:border-box;"></div>
<svg style="position:absolute;left:386px;top:818.0px;" width="26" height="26" viewBox="0 0 26 26"><path d="M3 15.300 L10.700 21 L25.500 4.100" fill="none" stroke="#b3b3b3" stroke-width="3.200"/></svg>
<div style="position:absolute;left:444px;top:845.9000000000001px;width:20px;height:20px;background:#cd4f41;border-radius:50%;"></div>
<span style="position:absolute;left:474.5px;top:825.3px;font-size:26.3px;line-height:1;font-weight:400;color:#000;white-space:nowrap;transform:scaleX(1.1671);transform-origin:0 0;-webkit-text-stroke:0.900px #000;">Brittany Bale</span>
<svg style="position:absolute;left:653.2px;top:818.9000000000001px;" width="30.3" height="26" viewBox="0 0 30.300 26"><g fill="#e27f3e"><ellipse cx="15" cy="5" rx="4" ry="5.100"/><ellipse cx="8.500" cy="13.400" rx="4" ry="5"/><ellipse cx="21.700" cy="13.400" rx="4" ry="5"/><path d="M0 25.900 v-2.500 a5.500 5.500 0 0 1 5.500 -5.500 h1.600 l1.400 2 l1.400 -2 h1.600 q2.500 0 3.600 1.600 q1.100 -1.600 3.600 -1.600 h1.600 l1.400 2 l1.400 -2 h1.600 a5.500 5.500 0 0 1 5.500 5.500 v2.500 z"/></g></svg>
<svg style="position:absolute;left:688.3px;top:816.0px;" width="26" height="32" viewBox="0 0 26 32"><path d="M2.300 1 H23.700 a1.300 1.300 0 0 1 1.300 1.300 V24.500 L18.700 31 H2.300 a1.300 1.300 0 0 1 -1.300 -1.300 V2.300 a1.300 1.300 0 0 1 1.300 -1.300 z" fill="none" stroke="#000" stroke-width="2"/><path d="M17.800 24.300 H25.800 L18.600 31.800 z" fill="#000"/></svg>
<span style="position:absolute;left:695.1px;top:821.1px;font-size:22px;line-height:1;font-weight:400;color:#000;white-space:nowrap;-webkit-text-stroke:0.500px #000;">1</span>
<span style="position:absolute;left:474.5px;top:857.5px;font-size:26.5px;line-height:1;font-weight:400;color:#222;white-space:nowrap;transform:scaleX(0.9125);transform-origin:0 0;">DYSON</span>
<span style="position:absolute;left:582.0px;top:857.5px;font-size:26.5px;line-height:1;font-weight:400;color:#6a6a6a;white-space:nowrap;transform:scaleX(1.0240);transform-origin:0 0;">No Title</span>
<div style="position:absolute;left:680px;top:862.4px;width:2px;height:23px;background:#777;"></div>
<span style="position:absolute;left:474.5px;top:890.7px;font-size:22px;line-height:1;font-weight:400;color:#222;white-space:nowrap;transform:scaleX(1.0583);transform-origin:0 0;">No location</span>
<div style="position:absolute;left:602.0px;top:892.8000000000001px;width:2px;height:21.5px;background:#333;"></div>
<span style="position:absolute;left:609.5px;top:890.7px;font-size:22px;line-height:1;font-weight:400;color:#6a6a6a;white-space:nowrap;transform:scaleX(1.0330);transform-origin:0 0;">Miscellaneous</span>
<span style="position:absolute;left:1603.0px;top:857.0px;font-size:23.5px;line-height:1;font-weight:400;color:#111;white-space:nowrap;transform:scaleX(0.9794);transform-origin:0 0;">0.0</span>
<div style="position:absolute;left:1805.5px;top:868.7px;width:6.8px;height:2.1px;background:#222;"></div>
<span style="position:absolute;left:1935.0px;top:856.9px;font-size:22px;line-height:1;font-weight:400;color:#6a6a6a;white-space:nowrap;transform:scaleX(0.9859);transform-origin:0 0;">Unsuccessful</span>
<span style="position:absolute;left:2084.0px;top:851.3px;font-size:22px;line-height:1;font-weight:400;color:#6a6a6a;white-space:nowrap;transform:scaleX(0.9574);transform-origin:0 0;">Database Sea</span>
<span style="position:absolute;left:1144.0px;top:818.9px;font-size:24px;line-height:1;font-weight:400;color:#6a6a6a;white-space:nowrap;transform:scaleX(1.0556);transform-origin:0 0;">Content Copywriters</span>
<div style="position:absolute;left:376px;top:930.4px;width:1842px;height:121px;background:#fafafa;"></div>
<div style="position:absolute;left:376px;top:1050px;width:1842px;height:2px;background:#cdcdcd;"></div>
<div style="position:absolute;left:421.8px;top:930.4px;width:1.8px;height:123px;background:#d2d2d2;"></div>
<div style="position:absolute;left:386px;top:943.6px;width:26px;height:26px;background:#fff;border:2px solid #c4c4c4;box-sizing:border-box;"></div>
<div style="position:absolute;left:444px;top:971.1px;width:20px;height:20px;background:#5bb56c;border-radius:50%;"></div>
<span style="position:absolute;left:474.5px;top:948.0px;font-size:26.3px;line-height:1;font-weight:400;color:#000;white-space:nowrap;transform:scaleX(1.1609);transform-origin:0 0;-webkit-text-stroke:0.900px #000;">Victor Vishwar</span>
<svg style="position:absolute;left:671.5px;top:941.6999999999999px;" width="26" height="32" viewBox="0 0 26 32"><path d="M2.300 1 H23.700 a1.300 1.300 0 0 1 1.300 1.300 V24.500 L18.700 31 H2.300 a1.300 1.300 0 0 1 -1.300 -1.300 V2.300 a1.300 1.300 0 0 1 1.300 -1.300 z" fill="none" stroke="#000" stroke-width="2"/><path d="M17.800 24.300 H25.800 L18.600 31.800 z" fill="#000"/></svg>
<span style="position:absolute;left:678.3px;top:946.8px;font-size:22px;line-height:1;font-weight:400;color:#000;white-space:nowrap;-webkit-text-stroke:0.500px #000;">1</span>
<span style="position:absolute;left:474.5px;top:980.2px;font-size:26.5px;line-height:1;font-weight:400;color:#222;white-space:nowrap;transform:scaleX(1.0102);transform-origin:0 0;">Mecca Maxima</span>
<span style="position:absolute;left:675.0px;top:980.2px;font-size:26.5px;line-height:1;font-weight:400;color:#6a6a6a;white-space:nowrap;transform:scaleX(1.0074);transform-origin:0 0;">assistant coach</span>
<div style="position:absolute;left:865px;top:985.0999999999999px;width:2px;height:23px;background:#777;"></div>
<span style="position:absolute;left:474.5px;top:1013.4px;font-size:22px;line-height:1;font-weight:400;color:#222;white-space:nowrap;transform:scaleX(1.0583);transform-origin:0 0;">No location</span>
<div style="position:absolute;left:602.0px;top:1015.5px;width:2px;height:21.5px;background:#333;"></div>
<span style="position:absolute;left:609.5px;top:1013.4px;font-size:22px;line-height:1;font-weight:400;color:#6a6a6a;white-space:nowrap;transform:scaleX(1.0330);transform-origin:0 0;">Miscellaneous</span>
<span style="position:absolute;left:1603.0px;top:981.9px;font-size:23.5px;line-height:1;font-weight:400;color:#111;white-space:nowrap;transform:scaleX(0.9794);transform-origin:0 0;">0.0</span>
<div style="position:absolute;left:1805.5px;top:993.5999999999999px;width:6.8px;height:2.1px;background:#222;"></div>
<span style="position:absolute;left:1943.0px;top:981.8px;font-size:22px;line-height:1;font-weight:400;color:#6a6a6a;white-space:nowrap;transform:scaleX(1.0316);transform-origin:0 0;">Shortlist</span>
<span style="position:absolute;left:2084.0px;top:976.2px;font-size:22px;line-height:1;font-weight:400;color:#6a6a6a;white-space:nowrap;transform:scaleX(0.9574);transform-origin:0 0;">Database Sea</span>
<div style="position:absolute;left:376px;top:1052.5px;width:1842px;height:120.5px;background:#fff;"></div>
<div style="position:absolute;left:421.8px;top:1052.5px;width:1.8px;height:122.5px;background:#d2d2d2;"></div>
<div style="position:absolute;left:386px;top:1065.7px;width:26px;height:26px;background:#fff;border:2px solid #c4c4c4;box-sizing:border-box;"></div>
<div style="position:absolute;left:444px;top:1093.2px;width:20px;height:20px;background:#555;border-radius:50%;"></div>
<span style="position:absolute;left:474.5px;top:1070.1px;font-size:26.3px;line-height:1;font-weight:400;color:#000;white-space:nowrap;transform:scaleX(1.1037);transform-origin:0 0;-webkit-text-stroke:0.900px #000;">Paula Percy</span>
<svg style="position:absolute;left:635.2px;top:1063.8px;" width="26" height="32" viewBox="0 0 26 32"><path d="M2.300 1 H23.700 a1.300 1.300 0 0 1 1.300 1.300 V24.500 L18.700 31 H2.300 a1.300 1.300 0 0 1 -1.300 -1.300 V2.300 a1.300 1.300 0 0 1 1.300 -1.300 z" fill="none" stroke="#000" stroke-width="2"/><path d="M17.800 24.300 H25.800 L18.600 31.800 z" fill="#000"/></svg>
<span style="position:absolute;left:642.0px;top:1068.9px;font-size:22px;line-height:1;font-weight:400;color:#000;white-space:nowrap;-webkit-text-stroke:0.500px #000;">1</span>
<span style="position:absolute;left:474.5px;top:1102.3px;font-size:26.5px;line-height:1;font-weight:400;color:#222;white-space:nowrap;transform:scaleX(1.0335);transform-origin:0 0;">Linjer</span>
<span style="position:absolute;left:562.0px;top:1102.3px;font-size:26.5px;line-height:1;font-weight:400;color:#6a6a6a;white-space:nowrap;transform:scaleX(1.0074);transform-origin:0 0;">assistant coach</span>
<div style="position:absolute;left:752px;top:1107.2px;width:2px;height:23px;background:#777;"></div>
<span style="position:absolute;left:474.5px;top:1135.5px;font-size:22px;line-height:1;font-weight:400;color:#222;white-space:nowrap;transform:scaleX(1.0583);transform-origin:0 0;">No location</span>
<div style="position:absolute;left:602.0px;top:1137.6000000000001px;width:2px;height:21.5px;background:#333;"></div>
<span style="position:absolute;left:609.5px;top:1135.5px;font-size:22px;line-height:1;font-weight:400;color:#6a6a6a;white-space:nowrap;transform:scaleX(1.0330);transform-origin:0 0;">Miscellaneous</span>
<span style="position:absolute;left:1603.0px;top:1104.0px;font-size:23.5px;line-height:1;font-weight:400;color:#111;white-space:nowrap;transform:scaleX(0.9794);transform-origin:0 0;">0.0</span>
<div style="position:absolute;left:1805.5px;top:1115.7px;width:6.8px;height:2.1px;background:#222;"></div>
<span style="position:absolute;left:1933.0px;top:1103.9px;font-size:22px;line-height:1;font-weight:400;color:#6a6a6a;white-space:nowrap;transform:scaleX(0.9946);transform-origin:0 0;">Just Applied</span>
<span style="position:absolute;left:2084.0px;top:1098.3px;font-size:22px;line-height:1;font-weight:400;color:#6a6a6a;white-space:nowrap;transform:scaleX(0.9574);transform-origin:0 0;">Database Sea</span>
<div style="position:absolute;left:376px;top:1173px;width:1842px;height:18px;background:#d0d0d0;"></div>
<div style="position:absolute;left:376px;top:1174.5px;width:1262px;height:16.5px;background:#666;border-radius:8.500px;"></div>
<div style="position:absolute;left:392px;top:1204px;width:63.5px;height:60px;background:#fafafa;"></div>
<div style="position:absolute;left:472.5px;top:1204px;width:63.5px;height:60px;background:#fafafa;"></div>
<div style="position:absolute;left:828px;top:1204px;width:63.5px;height:60px;background:#fafafa;"></div>
<div style="position:absolute;left:908px;top:1204px;width:63.5px;height:60px;background:#fafafa;"></div>
<div style="position:absolute;left:1006px;top:1204px;width:64px;height:60px;background:#f5f5f5;"></div>
<svg style="position:absolute;left:408px;top:1218px;" width="34" height="32" viewBox="0 0 34 32"><path d="M15 2 L2 16 L15 30" fill="none" stroke="#cdcdcd" stroke-width="2.200"/><path d="M15 2 L2 16 L15 30" transform="translate(15,0)" fill="none" stroke="#c6c6c6" stroke-width="2.200"/></svg>
<svg style="position:absolute;left:494px;top:1218px;" width="18" height="32" viewBox="0 0 18 32"><path d="M15 2 L2 16 L15 30" fill="none" stroke="#cdcdcd" stroke-width="2.200"/></svg>
<div style="position:absolute;left:552px;top:1220px;width:2px;height:27px;background:#ddd;"></div>
<span style="position:absolute;left:578.5px;top:1222.1px;font-size:26.5px;line-height:1;font-weight:400;color:#37474f;white-space:nowrap;transform:scaleX(0.9210);transform-origin:0 0;">Page</span>
<div style="position:absolute;left:666px;top:1210.2px;width:59.8px;height:49.6px;background:#fff;border:2px solid #bdbdbd;box-sizing:border-box;"></div>
<span style="position:absolute;left:681.0px;top:1224.0px;font-size:26px;line-height:1;font-weight:400;color:#555;white-space:nowrap;">1</span>
<span style="position:absolute;left:738.5px;top:1222.1px;font-size:26.5px;line-height:1;font-weight:400;color:#37474f;white-space:nowrap;transform:scaleX(0.9841);transform-origin:0 0;">of 1</span>
<div style="position:absolute;left:811px;top:1220px;width:2px;height:27px;background:#ddd;"></div>
<svg style="position:absolute;left:852px;top:1218px;" width="18" height="32" viewBox="0 0 18 32"><path d="M2 2 L15 16 L2 30" fill="none" stroke="#cdcdcd" stroke-width="2.200"/></svg>
<svg style="position:absolute;left:924px;top:1218px;" width="34" height="32" viewBox="0 0 34 32"><path d="M2 2 L15 16 L2 30" fill="none" stroke="#cdcdcd" stroke-width="2.200"/><path d="M2 2 L15 16 L2 30" transform="translate(15,0)" fill="none" stroke="#c6c6c6" stroke-width="2.200"/></svg>
<div style="position:absolute;left:988px;top:1220px;width:2px;height:27px;background:#ddd;"></div>
<svg style="position:absolute;left:1020.5px;top:1217px;" width="34" height="34" viewBox="0 0 34 34"><path d="M30.800 12 A14.700 14.700 0 1 0 30.980 21.540" fill="none" stroke="#b4b4b4" stroke-width="2.100"/><path d="M19.500 13.800 H32.500 V1.200" fill="none" stroke="#b4b4b4" stroke-width="2.100"/></svg>
<span style="position:absolute;left:1975.0px;top:1222.1px;font-size:26.5px;line-height:1;font-weight:400;color:#37474f;white-space:nowrap;transform:scaleX(0.9848);transform-origin:0 0;">1 - 5 of 5</span>
<div style="position:absolute;left:2104.5px;top:1220px;width:2px;height:27px;background:#ddd;"></div>
<div style="position:absolute;left:2122.5px;top:1210.4px;width:79px;height:49px;background:#fff;border:2px solid #bdbdbd;box-sizing:border-box;"></div>
<span style="position:absolute;left:2137.0px;top:1224.0px;font-size:26px;line-height:1;font-weight:400;color:#555;white-space:nowrap;transform:scaleX(1.0027);transform-origin:0 0;">50</span>
<div style="position:absolute;left:2218px;top:500px;width:602px;height:844px;background:#fff;"></div>
<div style="position:absolute;left:2220px;top:500px;width:600px;height:93.5px;background:#f5f5f5;"></div>
<span style="position:absolute;left:2266.0px;top:533.1px;font-size:33px;line-height:1;font-weight:400;color:#111;white-space:nowrap;transform:scaleX(1.0072);transform-origin:0 0;">Actions</span>
<div style="position:absolute;left:2730px;top:526px;width:44px;height:44px;background:#2b2b2b;border-radius:50%;"></div>
<svg style="position:absolute;left:2730px;top:526px;" width="44" height="44" viewBox="0 0 44 44"><path d="M14.500 14.500 L29.500 29.500 M29.500 14.500 L14.500 29.500" stroke="#fff" stroke-width="5" stroke-linecap="round"/></svg>
<div style="position:absolute;left:2262px;top:656px;width:516px;height:49.5px;background:#fdf1c0;"></div>
<span style="position:absolute;left:2448.5px;top:665.6px;font-size:30px;line-height:1;font-weight:400;color:#000;white-space:nowrap;transform:scaleX(1.0456);transform-origin:0 0;-webkit-text-stroke:0.800px #000;">1 selected</span>
<div style="position:absolute;left:2262px;top:746px;width:516px;height:79.5px;background:#79bfab;border-radius:11px;"></div>
<svg style="position:absolute;left:2289.5px;top:775px;" width="29" height="22" viewBox="0 0 29 22"><path d="M1 2 a1 1 0 0 1 1.600 -0.800 L14 10.200 V2 a1 1 0 0 1 1.600 -0.800 L28 10.200 a1 1 0 0 1 0 1.600 L15.600 20.800 a1 1 0 0 1 -1.600 -0.800 V11.800 L2.600 20.800 a1 1 0 0 1 -1.600 -0.800 z" fill="#fff"/></svg>
<span style="position:absolute;left:2448.5px;top:767.5px;font-size:26px;line-height:1;font-weight:700;color:#fff;white-space:nowrap;transform:scaleX(1.0042);transform-origin:0 0;-webkit-text-stroke:0.600px #fff;">PROGRESS</span>
<svg style="position:absolute;left:2741px;top:778.5px;" width="22" height="14" viewBox="0 0 22 14"><path d="M3 3 L11 11 L19 3" fill="none" stroke="#fff" stroke-width="4.200" stroke-linecap="round" stroke-linejoin="round"/></svg>
<div style="position:absolute;left:2262px;top:866px;width:516px;height:79.5px;background:#c25d5b;border-radius:11px;"></div>
<svg style="position:absolute;left:2290.3px;top:890px;" width="25" height="31" viewBox="0 0 25 31"><path d="M5 4.500 a1.500 1.500 0 0 1 3 0 V14 h1 V2.500 a1.500 1.500 0 0 1 3 0 V14 h1 V3.500 a1.500 1.500 0 0 1 3 0 V14.500 h1 V7.500 a1.500 1.500 0 0 1 3 0 V17.500 l1.300 -2.300 a1.700 1.700 0 0 1 3 1.600 L20.500 26 a7 7 0 0 1 -6.500 4.500 H10.500 a6.500 6.500 0 0 1 -6.500 -6.500 V7 a0 0 0 0 1 1 -2.500 z" fill="#fff"/></svg>
<span style="position:absolute;left:2487.0px;top:887.5px;font-size:26px;line-height:1;font-weight:700;color:#fff;white-space:nowrap;transform:scaleX(1.0309);transform-origin:0 0;-webkit-text-stroke:0.600px #fff;">STOP</span>
<svg style="position:absolute;left:2741px;top:898.5px;" width="22" height="14" viewBox="0 0 22 14"><path d="M3 3 L11 11 L19 3" fill="none" stroke="#fff" stroke-width="4.200" stroke-linecap="round" stroke-linejoin="round"/></svg>
<div style="position:absolute;left:2262px;top:1006px;width:516px;height:79.5px;background:#fff;border:4px solid #3b78b8;box-sizing:border-box;"></div>
<div style="position:absolute;left:2262px;top:1126px;width:516px;height:79.5px;background:#fff;border:4px solid #3b78b8;box-sizing:border-box;"></div>
<div style="position:absolute;left:2262px;top:1246px;width:516px;height:79.5px;background:#fff;border:4px solid #3b78b8;box-sizing:border-box;"></div>
<svg style="position:absolute;left:2449px;top:1029px;" width="52" height="34" viewBox="0 0 52 34"><path d="M0.500 33 C6 20 17 13.500 33 13 V1 L51 17 L33 32.500 V22 C20 21.500 9 25 0.500 33 z" fill="#111"/></svg>
<span style="position:absolute;left:2511.5px;top:1033.3px;font-size:28px;line-height:1;font-weight:400;color:#3b78b8;white-space:nowrap;transform:scaleX(0.9502);transform-origin:0 0;-webkit-text-stroke:0.750px #3b78b8;">Share</span>
<svg style="position:absolute;left:2328.8px;top:1153px;" width="28" height="26" viewBox="0 0 28 26"><circle cx="14" cy="7.500" r="6.500" fill="#111"/><path d="M1 24 C1 17 6 13 10 13 h8 C22 13 27 17 27 24 a1.500 1.500 0 0 1 -1.500 1.500 H2.500 a1.500 1.500 0 0 1 -1.500 -1.500 z" fill="#111"/></svg>
<span style="position:absolute;left:2369.5px;top:1153.3px;font-size:28px;line-height:1;font-weight:400;color:#3b78b8;white-space:nowrap;transform:scaleX(1.0352);transform-origin:0 0;-webkit-text-stroke:0.750px #3b78b8;">Add to talent communities</span>
<span style="position:absolute;left:2487.5px;top:1273.3px;font-size:28px;line-height:1;font-weight:400;color:#3b78b8;white-space:nowrap;transform:scaleX(0.9639);transform-origin:0 0;-webkit-text-stroke:0.750px #3b78b8;">Refer</span>
<div style="position:absolute;left:2820px;top:409px;width:34px;height:935px;background:linear-gradient(to right,#a9a9a9 0,#c9c9c9 3px,#e4e4e4 7px,#f0f0f0 12px);"></div>
</body></html>
